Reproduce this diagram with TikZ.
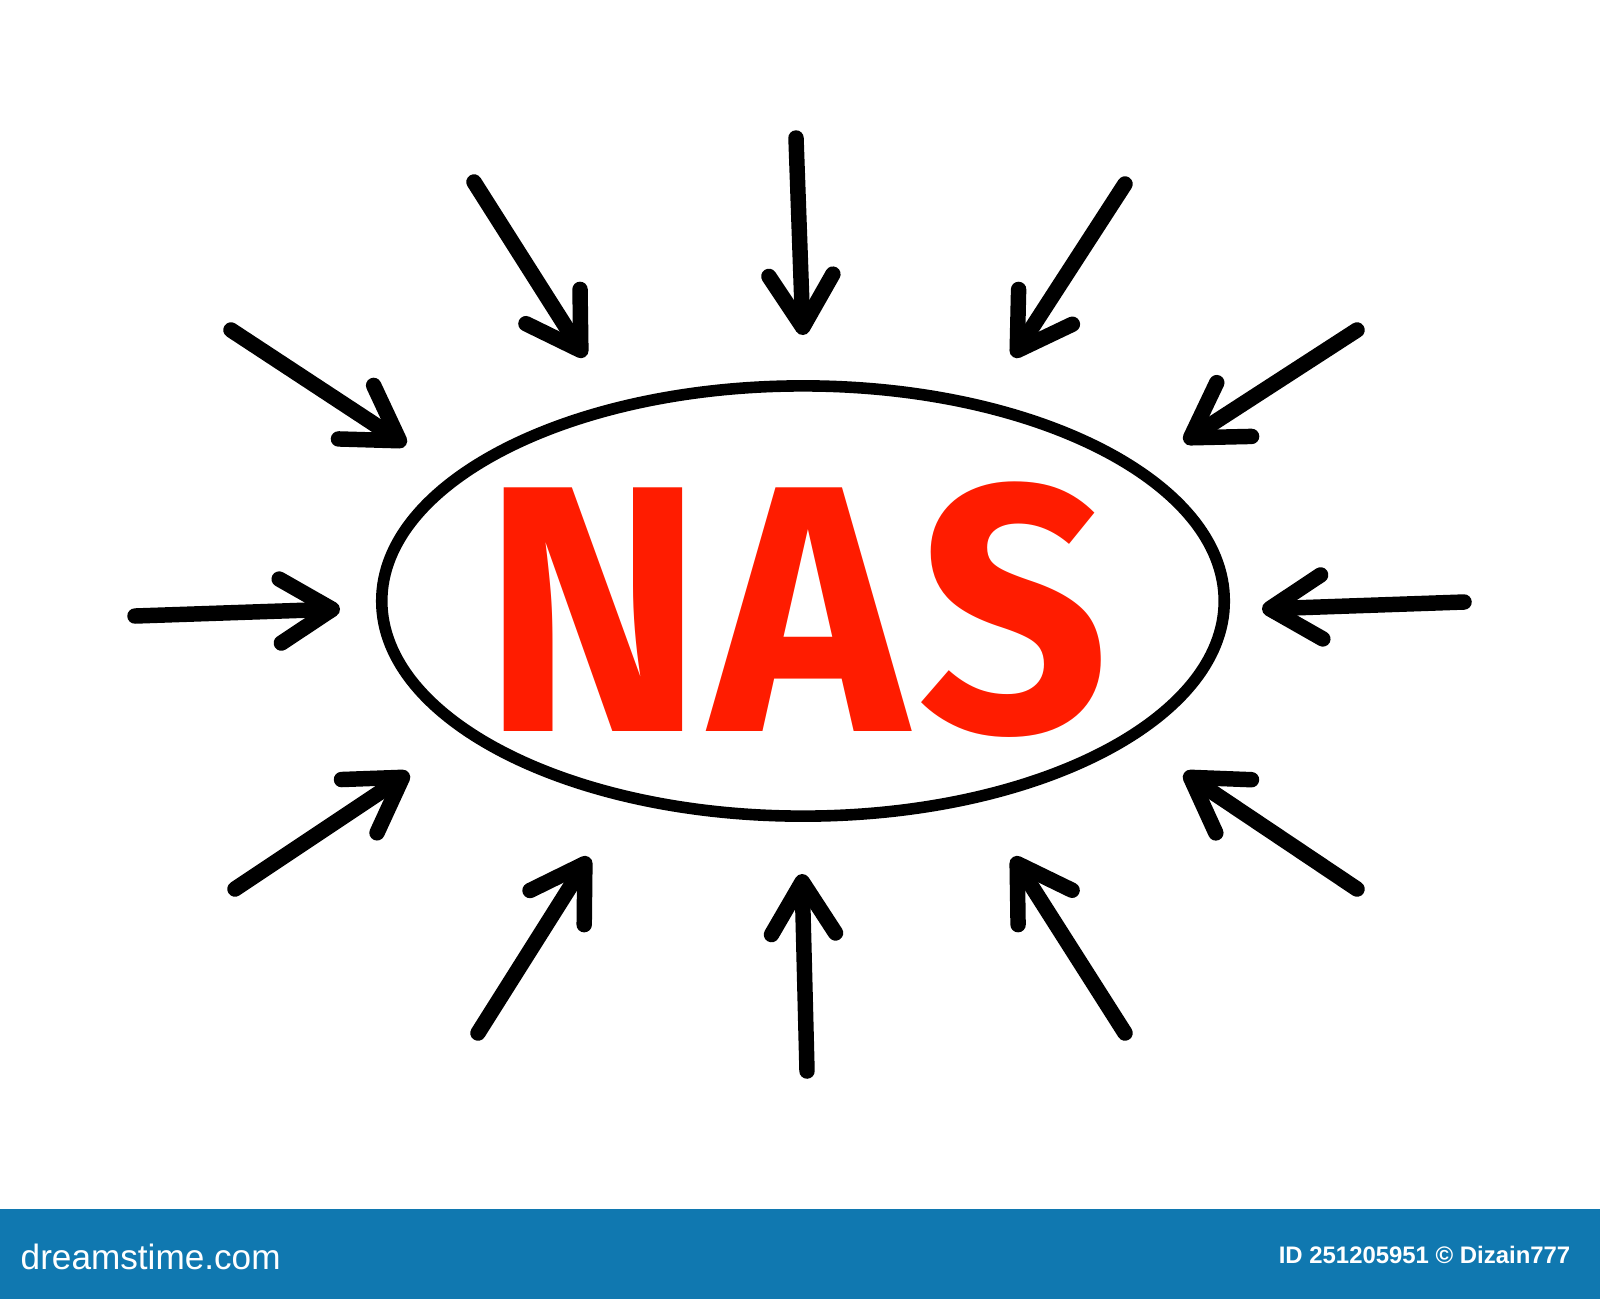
\documentclass[tikz,border=0pt]{standalone}
\usepackage{fontspec}
\setmainfont{Fira Sans}
\newfontfamily\bannerfont{Liberation Sans}
\usepackage{tikz}
\usetikzlibrary{arrows.meta,positioning,shapes.geometric}

\definecolor{nasred}{RGB}{255,28,0}
\definecolor{bannerblue}{RGB}{16,120,176}

\tikzset{
  inarrow/.style={line width=4.4pt, line cap=round, line join=round,
    -{Straight Barb[length=5.2mm, width=6.4mm, line cap=round, line join=round]}},
  hubring/.style={ellipse, draw, line width=3.3pt, inner sep=0pt,
    minimum width=8.42cm, minimum height=4.3cm},
}

\begin{document}
\begin{tikzpicture}[x=0.01cm, y=-0.01cm]
  \useasboundingbox (0,0) rectangle (1600,1299);
  % centre ellipse and word
  \node[hubring] (hub) at (803,601) {};
  \node[text=nasred, font=\fontsize{100}{100}\selectfont\bfseries, xscale=0.95,
    inner sep=0pt] (word) at (796,610) {N\kern2pt A\kern3pt S};
  % arrows pointing inward
  \foreach \name/\tx/\ty/\hx/\hy in {
      n/796/138/803/335, nw/474/182/585/357, ne/1125/184/1013/357,
      wn/231/330/406/445, en/1357/330/1184/442,
      w/135/616/340/609, e/1464/602/1262/609,
      ws/235/889/409/773, es/1357/889/1184/773,
      sw/478/1033/589/857, s/807/1071/802/874, se/1125/1033/1013/857} {
    \coordinate (\name tail) at (\tx,\ty);
    \coordinate (\name tip) at (\hx,\hy);
    \draw[inarrow] (\name tail) -- (\name tip);
  }
  % bottom banner
  \fill[bannerblue] (0,1209) rectangle (1600,1299);
  \node[text=white, font=\bannerfont\fontsize{10}{10}\selectfont, anchor=west,
    inner sep=0pt] (site) at (20,1257) {dreamstime.com};
  \node[text=white, font=\bannerfont\fontsize{6.8}{7}\selectfont\bfseries, anchor=east,
    inner sep=0pt] (credit) at (1571,1255) {ID 251205951 © Dizain777};
\end{tikzpicture}
\end{document}
